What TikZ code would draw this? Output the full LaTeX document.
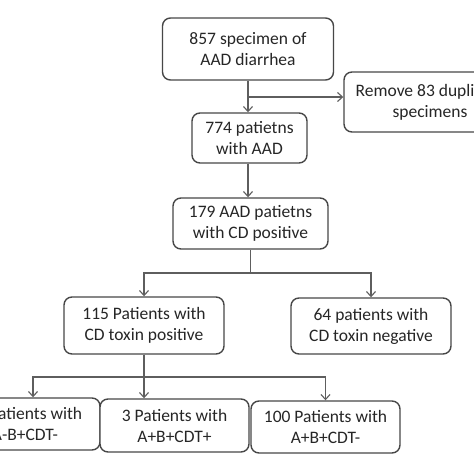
\documentclass[tikz,border=0pt]{standalone}
\usepackage{fontspec}
\setmainfont{Carlito}
\usetikzlibrary{arrows.meta}

\definecolor{boxgray}{HTML}{474747}
\definecolor{linegray}{HTML}{5E5E5E}
\definecolor{txtgray}{HTML}{262626}

\tikzset{
  flowbox/.style={draw=boxgray, line width=1.4pt, rounded corners=8pt, fill=white,
    align=center, inner sep=0pt, text=txtgray,
    font=\fontsize{17.5}{21}\selectfont},
  link/.style={draw=linegray, line width=1.2pt},
  arr/.style={link, -{Straight Barb[length=5pt,width=9pt,line width=1.1pt]}}
}

\begin{document}
\begin{tikzpicture}[x=1pt, y=-1pt]

\def\xa{248} % main column
\def\ya{97} % side branch
\def\yb{273} % toxin split
\def\yc{377} % subtype split

\fill[white] (0,0) rectangle (474,474);
\clip (0,0) rectangle (474,474);

\node[flowbox, minimum width=171pt, minimum height=62pt] (spec) at (248,49) {857 specimen of\\AAD diarrhea};
\node[flowbox, minimum width=172pt, minimum height=60pt] (rem) at (430,102) {Remove 83 duplicate\\specimens};
\node[flowbox, minimum width=115pt, minimum height=50pt] (pat) at (249.5,138) {774 patietns\\with AAD};
\node[flowbox, minimum width=155pt, minimum height=51pt] (cdpos) at (250.5,223.5) {179 AAD patietns\\with CD positive};

\node[flowbox, minimum width=160pt, minimum height=57pt] (toxpos) at (144,325.5) {115 Patients with\\CD toxin positive};
\node[flowbox, minimum width=160pt, minimum height=56pt] (toxneg) at (371,326) {64 patients with\\CD toxin negative};

\node[flowbox, minimum width=150pt, minimum height=52pt] (abn) at (25,424) {12 Patients with\\A-B+CDT-};
\node[flowbox, minimum width=149pt, minimum height=53pt] (abp) at (174.5,425.5) {3 Patients with\\A+B+CDT+};
\node[flowbox, minimum width=149pt, minimum height=52pt] (abm) at (325.5,427) {100 Patients with\\A+B+CDT-};

% top column
\coordinate (side) at (\xa,\ya);
\draw[arr] (spec.south -| side) -- (pat.north -| side);
\draw[arr] (side) -- (side -| rem.west);
\draw[arr] (pat.south -| side) -- (cdpos.north -| side);

% toxin split
\coordinate (splitb) at (cdpos.south |- 0,\yb);
\draw[link] (cdpos.south) -- (splitb);
\draw[arr] (splitb) -| (toxpos.north);
\draw[arr] (splitb) -| (toxneg.north);

% subtypes
\coordinate (splitc) at (toxpos.south |- 0,\yc);
\draw[arr] (toxpos.south) -- (toxpos.south |- abp.north);
\draw[arr] (splitc) -| ([xshift=8pt]abn.north);
\draw[arr] (splitc) -| (abm.north);

\end{tikzpicture}
\end{document}
